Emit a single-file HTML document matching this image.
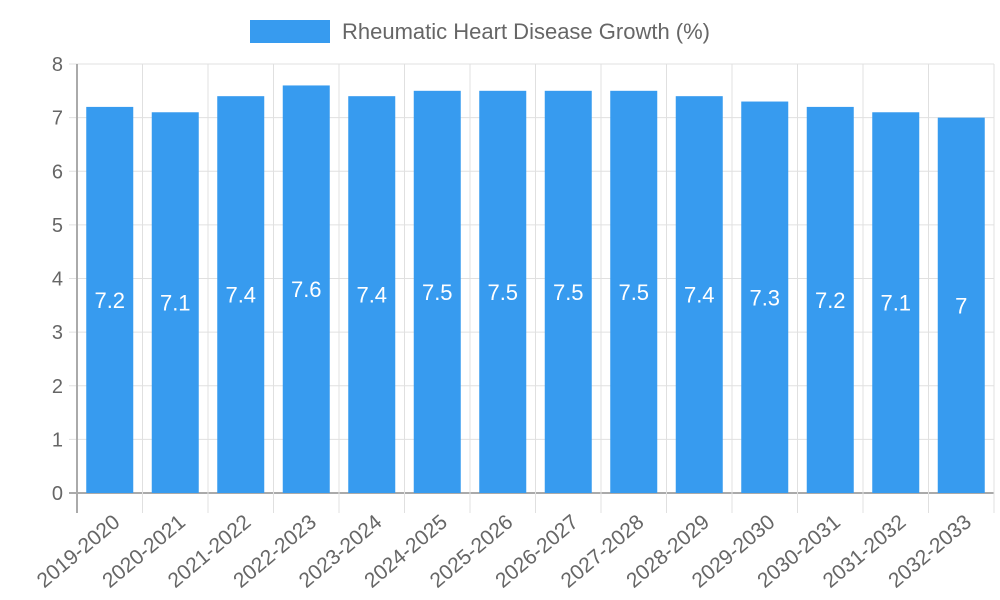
<!DOCTYPE html>
<html><head><meta charset="utf-8"><style>
body{margin:0;background:#fff;}
svg{display:block;font-family:"Liberation Sans",sans-serif;}
</style></head><body>
<svg id="c" width="1000" height="600"></svg>
<script>
const categories=["2019-2020","2020-2021","2021-2022","2022-2023","2023-2024","2024-2025","2025-2026","2026-2027","2027-2028","2028-2029","2029-2030","2030-2031","2031-2032","2032-2033"];
const values=[7.2,7.1,7.4,7.6,7.4,7.5,7.5,7.5,7.5,7.4,7.3,7.2,7.1,7];
const yTicks=[0,1,2,3,4,5,6,7,8];
const seriesName="Rheumatic Heart Disease Growth (%)";
const NS="http://www.w3.org/2000/svg";
const svg=document.getElementById('c');
const L=77,R=994,T=64,B=493,yMax=8;
const bw=(R-L)/categories.length;
const y=v=>B-(v/yMax)*(B-T);
const xc=i=>L+bw*(i+0.5);
function mk(t,a,p){const e=document.createElementNS(NS,t);for(const k in a)e.setAttribute(k,a[k]);(p||svg).appendChild(e);return e;}
// grid
yTicks.forEach(t=>{
 const l=mk('line',{x1:L-8,x2:R,y1:y(t),y2:y(t),stroke:t===0?'#aaa':'#e0e0e0','stroke-width':t===0?2:1});
 
 
 const tx=mk('text',{x:L-14,y:y(t)+7,'text-anchor':'end','font-size':20,fill:'#666'});
 tx.textContent=t;
 
 
});
for(let i=0;i<=categories.length;i++){
 const x=L+bw*i;
 const l=mk('line',{x1:x,x2:x,y1:T,y2:B+20,stroke:i===0?'#aaa':'#e0e0e0','stroke-width':i===0?2:1});
 
 
}
categories.forEach((c,i)=>{
 const w=47;
 const r=mk('rect',{x:xc(i)-w/2,y:y(values[i]),width:w,height:B-y(values[i]),fill:'#379bef'});
 
 
 const v=mk('text',{x:xc(i),y:(y(values[i])+B)/2+8,'text-anchor':'middle','font-size':22,fill:'#fff'});
 v.textContent=values[i];
 
 
 const lx=xc(i)+2,ly=B+20;
 const t=mk('text',{x:lx,y:ly,'text-anchor':'end','font-size':21,fill:'#666',transform:`rotate(-40 ${lx} ${ly})`,dy:'0.7em'});
 t.textContent=c;
 
 
});
// legend
const g=mk('g',{});


mk('rect',{x:250,y:20,width:80,height:23,fill:'#379bef'},g);
const lt=mk('text',{x:342,y:39,'font-size':22,fill:'#666'},g);
lt.textContent=seriesName;
</script>
</body></html>
